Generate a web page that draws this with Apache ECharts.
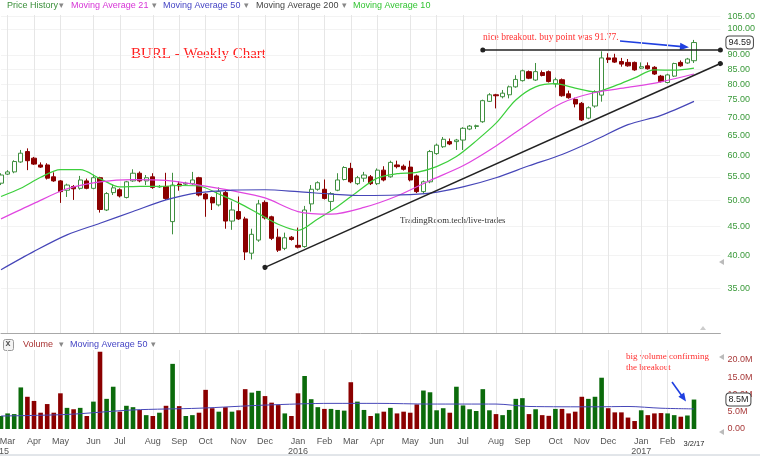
<!DOCTYPE html>
<html>
<head>
<meta charset="utf-8">
<script src="https://cdn.jsdelivr.net/npm/echarts@6/dist/echarts.min.js"></script>
<style>
  html, body { margin: 0; background: #fff; }
  #chart { width: 760px; height: 456px; }
</style>
</head>
<body>
<div id="chart"></div>
<script>
// weekly candles, one per week from 23 Feb 2015 to 27 Feb 2017: [open, close, low, high]
const candles = [
  [53.6, 55.4, 53.2, 55.8], [55.6, 56.1, 55.4, 56.5], [56.1, 58.5, 55.8, 58.8], [58.4, 60.5, 58.2, 61.3],
  [60.9, 58.7, 56.5, 61.7], [59.3, 57.9, 57.7, 59.6], [57.7, 57.2, 57.0, 58.3], [57.7, 54.7, 54.4, 58.1],
  [55.0, 54.1, 53.9, 56.0], [54.1, 51.8, 49.5, 54.3], [52.1, 53.2, 50.7, 53.5], [52.9, 52.4, 50.1, 53.2],
  [52.5, 54.3, 52.2, 55.2], [54.1, 52.5, 52.3, 54.6], [52.5, 54.8, 52.3, 55.5], [54.8, 48.2, 47.6, 55.0],
  [48.1, 51.4, 47.9, 51.7], [51.6, 52.6, 51.1, 53.3], [52.2, 50.9, 50.6, 52.5], [50.6, 53.9, 50.4, 54.1],
  [54.1, 55.8, 53.9, 56.7], [55.8, 54.1, 53.8, 56.2], [54.1, 54.8, 53.2, 55.4], [55.0, 52.7, 52.4, 55.8],
  [52.8, 52.9, 52.6, 53.2], [52.9, 50.4, 50.1, 55.9], [45.9, 53.2, 43.6, 55.9], [53.4, 53.0, 52.0, 54.0],
  [53.4, 53.6, 53.2, 53.9], [53.5, 54.3, 53.2, 56.1], [54.8, 51.1, 50.8, 55.0], [51.3, 50.3, 46.8, 51.5],
  [50.6, 49.5, 48.1, 50.8], [49.1, 51.8, 48.8, 52.7], [51.6, 46.0, 44.6, 52.0], [46.0, 48.1, 44.4, 49.8],
  [47.8, 46.4, 46.2, 50.8], [46.4, 40.6, 39.3, 46.8], [40.4, 43.6, 39.4, 44.6], [42.6, 49.3, 42.3, 50.1],
  [49.6, 46.6, 46.3, 50.0], [46.8, 42.9, 42.6, 47.0], [43.1, 40.9, 40.6, 44.6], [41.2, 43.0, 40.9, 43.9],
  [43.1, 42.7, 42.5, 43.3], [41.7, 41.4, 41.2, 44.8], [41.5, 48.1, 41.3, 48.9], [49.3, 52.3, 47.8, 53.2],
  [52.3, 53.7, 52.0, 54.0], [52.3, 50.4, 50.2, 54.4], [49.8, 51.4, 48.1, 51.7], [52.1, 54.3, 51.9, 55.8],
  [54.4, 57.1, 54.2, 57.4], [56.9, 53.9, 53.6, 58.2], [53.5, 54.8, 53.2, 55.2], [54.7, 55.4, 53.9, 56.1],
  [55.0, 53.5, 53.2, 55.4], [53.5, 56.5, 53.2, 56.9], [56.5, 54.3, 54.0, 57.4], [55.0, 58.3, 54.8, 58.7],
  [57.7, 57.3, 56.9, 58.7], [57.4, 56.7, 56.4, 57.8], [57.2, 54.3, 54.0, 58.7], [55.2, 51.8, 51.5, 55.5],
  [51.8, 53.9, 51.3, 54.2], [53.9, 60.9, 53.6, 61.3], [60.4, 62.5, 60.1, 62.9], [62.1, 64.0, 61.8, 64.6],
  [63.4, 62.8, 62.5, 64.2], [63.4, 63.8, 61.3, 64.1], [63.8, 66.9, 61.3, 67.2], [66.7, 67.5, 66.4, 67.8],
  [67.4, 67.6, 66.7, 67.9], [68.7, 74.8, 68.4, 75.1], [74.6, 76.6, 74.4, 77.1], [76.6, 76.3, 72.5, 76.9],
  [76.0, 77.1, 75.5, 78.1], [76.6, 79.1, 75.5, 79.5], [79.1, 81.5, 78.8, 82.9], [81.1, 84.4, 80.8, 84.8],
  [84.1, 81.9, 81.6, 84.5], [81.3, 84.1, 81.0, 87.1], [83.8, 82.8, 82.5, 84.5], [84.1, 80.8, 80.5, 84.5],
  [80.0, 81.4, 78.9, 82.1], [81.4, 76.3, 76.0, 81.8], [76.9, 75.7, 75.4, 77.9], [75.2, 73.8, 72.8, 75.7],
  [74.0, 69.2, 68.9, 74.4], [69.7, 72.7, 69.4, 73.1], [73.2, 77.6, 72.7, 78.0], [76.5, 88.9, 74.5, 91.3],
  [88.9, 88.3, 87.1, 90.6], [88.9, 87.4, 87.1, 90.4], [87.6, 86.7, 85.8, 88.9], [87.3, 86.1, 85.8, 88.5],
  [87.3, 84.7, 84.4, 87.6], [85.3, 85.8, 85.0, 87.3], [86.1, 85.1, 84.8, 87.3], [85.6, 83.3, 83.0, 86.0],
  [82.6, 80.8, 80.5, 83.0], [80.5, 83.0, 80.2, 83.4], [82.6, 86.9, 82.3, 87.2], [87.3, 86.1, 85.8, 88.0],
  [87.1, 88.5, 86.8, 88.9], [87.9, 94.59, 87.1, 95.6]
];

// weekly volume, millions of shares
const volume = [
  3.75, 4.5, 4.3, 12.0, 9.3, 8.1, 4.7, 7.2, 4.7, 10.3,
  6.1, 5.7, 6.1, 3.75, 7.9, 22.3, 8.7, 12.2, 5.0, 6.7,
  6.3, 5.5, 4.0, 3.75, 4.7, 6.7, 18.8, 6.6, 3.75, 4.0,
  4.7, 11.3, 6.0, 5.0, 6.3, 5.0, 5.4, 11.5, 10.5, 11.0,
  9.5, 7.6, 6.9, 4.5, 3.75, 10.3, 15.3, 8.6, 6.3, 5.8,
  5.8, 5.5, 5.3, 13.5, 7.9, 5.5, 3.75, 4.5, 5.0, 6.1,
  4.5, 5.0, 4.7, 7.1, 11.1, 10.6, 5.4, 6.0, 4.7, 12.2,
  6.8, 5.7, 5.2, 11.5, 5.4, 4.3, 4.0, 5.5, 8.7, 8.9,
  4.3, 5.7, 4.0, 3.8, 5.8, 5.8, 4.5, 5.0, 9.3, 8.7,
  9.3, 14.8, 6.0, 4.8, 4.8, 3.3, 2.3, 5.4, 4.0, 4.5,
  4.6, 4.5, 4.0, 3.55, 3.9, 8.5
];

// moving averages: [week index, value]
const ma10 = [
  [0, 50.8], [3, 52.5], [6, 54.9], [9, 56.6], [12, 56.6], [15, 54.6], [18, 52.8], [21, 52.9],
  [24, 52.9], [27, 53.1], [30, 53.0], [33, 51.3], [36, 49.5], [39, 47.4], [42, 45.4], [45, 44.3],
  [48, 46.4], [51, 48.8], [54, 51.8], [57, 54.7], [60, 55.7], [63, 56.0], [66, 57.3], [69, 59.7],
  [72, 63.6], [75, 68.3], [78, 75.0], [81, 79.1], [84, 80.1], [87, 78.7], [90, 77.5], [93, 79.4],
  [96, 82.0], [99, 84.7], [102, 84.6], [105, 85.3]
];
const ma21 = [
  [0, 46.4], [5, 49.4], [10, 52.4], [15, 53.9], [20, 54.4], [25, 54.2], [30, 53.2], [35, 52.0],
  [40, 50.5], [45, 47.8], [50, 47.3], [55, 48.6], [60, 50.9], [65, 54.2], [70, 57.5], [75, 62.3],
  [80, 68.3], [85, 74.1], [90, 77.3], [95, 78.9], [100, 80.7], [105, 83.3]
];
const ma50 = [
  [0, 37.8], [5, 40.7], [10, 43.5], [15, 45.6], [20, 47.8], [25, 50.1], [30, 51.6], [35, 52.1],
  [40, 52.2], [45, 51.8], [50, 51.3], [55, 51.0], [60, 51.1], [65, 51.5], [70, 52.8], [75, 54.8],
  [80, 57.5], [85, 60.2], [90, 63.8], [95, 67.9], [100, 70.5], [105, 74.6]
];
const volMa50 = [
  [0, 3.75], [10, 4.2], [20, 5.5], [30, 6.0], [40, 6.9], [50, 7.4], [57, 7.4], [65, 7.2],
  [75, 7.2], [80, 6.5], [90, 6.4], [95, 6.5], [100, 6.0], [105, 5.8]
];

// month gridlines / labels (week index where the month starts)
const monthIdx = [1, 5, 9, 14, 18, 23, 27, 31, 36, 40, 45, 49, 53, 57, 62, 66, 70, 75, 79, 84, 88, 92, 97, 101];
const monthNames = ['Mar', 'Apr', 'May', 'Jun', 'Jul', 'Aug', 'Sep', 'Oct', 'Nov', 'Dec', 'Jan', 'Feb',
  'Mar', 'Apr', 'May', 'Jun', 'Jul', 'Aug', 'Sep', 'Oct', 'Nov', 'Dec', 'Jan', 'Feb'];
const yearLabels = [[1, '2015'], [45, '2016'], [97, '2017']];
const lastDateLabel = [105, '3/2/17'];

const priceTicks = [35, 40, 45, 50, 55, 60, 65, 70, 75, 80, 85, 90, 100, 105];
const lastClose = 94.59;
const lastVolume = 8.5;
const buyPoint = 91.77;
const trendStart = [40, 38.15];
const trendEnd = [109, 86.9];
const breakoutStart = 73;

const weekCount = 110; // 106 weeks plus empty space on the right
const cats = Array.from({ length: weekCount }, (_, i) => String(i));

const UP = '#3f8f3f';
const DOWN = '#8b0000';
const VOL_UP = '#0b6b0b';

const monthSet = new Set(monthIdx);
const labelMap = new Map();
monthIdx.forEach((idx, k) => labelMap.set(idx, monthNames[k]));
yearLabels.forEach(([idx, y], k) => {
  // the first year sits half cut at the left edge
  const tag = k === 0 ? '{y0|' + y + '}' : y;
  labelMap.set(idx, (labelMap.get(idx) || '') + '\n' + tag);
});
labelMap.set(lastDateLabel[0], '{d|' + lastDateLabel[1] + '}');

const volData = volume.map((v, i) => ({
  value: v,
  itemStyle: { color: candles[i][1] >= candles[i][0] ? VOL_UP : DOWN }
}));

const FONT = 'Liberation Sans';
const SERIF = 'Liberation Serif';

const boxLabel = {
  show: true, position: 'end', distance: 6,
  color: '#222', fontSize: 9, backgroundColor: '#fff',
  borderColor: '#444', borderWidth: 1, borderRadius: 3, padding: [2, 2, 1, 2]
};

const chart = echarts.init(document.getElementById('chart'));
chart.setOption({
  animation: false,
  textStyle: { fontFamily: FONT },
  grid: [
    { left: 1, right: 39.6, top: 15, height: 318, outerBoundsMode: 'none' },
    { left: 1, right: 39.6, top: 350, height: 79, outerBoundsMode: 'none' }
  ],
  xAxis: [
    {
      type: 'category', gridIndex: 0, data: cats, boundaryGap: false,
      axisLine: { lineStyle: { color: '#a8a8a8' } },
      axisTick: { show: false },
      axisLabel: { show: false },
      splitLine: { show: true, interval: (i) => monthSet.has(i), lineStyle: { color: '#e6e6e6' } }
    },
    {
      type: 'category', gridIndex: 1, data: cats, boundaryGap: false,
      axisLine: { show: false },
      axisTick: { show: false },
      axisLabel: {
        interval: (i) => labelMap.has(i),
        formatter: (v, i) => labelMap.get(i) || '',
        color: '#555', fontSize: 9, lineHeight: 10, margin: 8,
        rich: {
          d: { fontSize: 7.5, color: '#222', padding: [4, 0, 0, 0] },
          y0: { fontSize: 9, color: '#555', padding: [0, 17, 0, 0] }
        }
      },
      splitLine: { show: true, interval: (i) => monthSet.has(i), lineStyle: { color: '#e6e6e6' } }
    }
  ],
  yAxis: [
    {
      type: 'log', gridIndex: 0, position: 'right', min: 29.27, max: 105.72,
      axisLine: { show: false },
      axisTick: { show: false, customValues: priceTicks },
      axisLabel: {
        customValues: priceTicks, formatter: (v) => v.toFixed(2),
        color: '#3b9a3b', fontSize: 9, margin: 7
      },
      splitLine: { show: true, lineStyle: { color: '#f3f3f3' } }
    },
    {
      type: 'value', gridIndex: 1, position: 'right', min: 0, max: 22.8, interval: 5,
      axisLine: { show: false },
      axisTick: { show: false },
      axisLabel: {
        formatter: (v) => (v === 0 ? '0.00' : v % 5 === 0 ? v.toFixed(1) + 'M' : ''),
        color: '#a83a3a', fontSize: 9, margin: 7
      },
      splitLine: { show: false }
    }
  ],
  series: [
    {
      type: 'candlestick', name: 'Price History', xAxisIndex: 0, yAxisIndex: 0,
      data: candles, barWidth: 4.6,
      itemStyle: { color: '#ffffff', color0: DOWN, borderColor: UP, borderColor0: DOWN, borderWidth: 1 },
      markLine: {
        silent: true, symbol: ['circle', 'circle'], symbolSize: 5,
        label: { show: false },
        lineStyle: { color: '#222', width: 1.5, type: 'solid' },
        data: [
          [{ coord: trendStart }, { coord: trendEnd }],
          [{ coord: [breakoutStart, buyPoint] }, { coord: [weekCount - 1, buyPoint] }]
        ]
      }
    },
    {
      type: 'line', name: 'Moving Average 10', xAxisIndex: 0, yAxisIndex: 0, data: ma10,
      showSymbol: false, smooth: 0.3, lineStyle: { color: '#3ccf3c', width: 1.2 },
      markLine: {
        silent: true, symbol: 'none',
        lineStyle: { color: 'transparent', width: 0 },
        data: [{ yAxis: lastClose }],
        label: Object.assign({ formatter: lastClose.toFixed(2) }, boxLabel)
      }
    },
    {
      type: 'line', name: 'Moving Average 21', xAxisIndex: 0, yAxisIndex: 0, data: ma21,
      showSymbol: false, smooth: 0.3, lineStyle: { color: '#e046e0', width: 1.2 }
    },
    {
      type: 'line', name: 'Moving Average 50', xAxisIndex: 0, yAxisIndex: 0, data: ma50,
      showSymbol: false, smooth: 0.3, lineStyle: { color: '#4646b8', width: 1.2 }
    },
    {
      type: 'bar', name: 'Volume', xAxisIndex: 1, yAxisIndex: 1, data: volData, barWidth: 4.6,
      markLine: {
        silent: true, symbol: 'none',
        lineStyle: { color: 'transparent', width: 0 },
        data: [{ yAxis: lastVolume }],
        label: Object.assign({ formatter: lastVolume.toFixed(1) + 'M' }, boxLabel)
      }
    },
    {
      type: 'line', name: 'Volume MA 50', xAxisIndex: 1, yAxisIndex: 1, data: volMa50,
      showSymbol: false, smooth: 0.3, lineStyle: { color: '#4646b8', width: 1 }
    }
  ],
  graphic: [
    // legend row of the price panel
    { type: 'text', left: 7, top: 1, style: { text: 'Price History', fill: '#3a8f3a', font: '9px ' + FONT } },
    { type: 'text', left: 59, top: 1, style: { text: '▾', fill: '#888', font: '9px ' + FONT } },
    { type: 'text', left: 71, top: 1, style: { text: 'Moving Average 21', fill: '#d633d6', font: '9px ' + FONT } },
    { type: 'text', left: 152, top: 1, style: { text: '▾', fill: '#888', font: '9px ' + FONT } },
    { type: 'text', left: 163, top: 1, style: { text: 'Moving Average 50', fill: '#4444c4', font: '9px ' + FONT } },
    { type: 'text', left: 244, top: 1, style: { text: '▾', fill: '#888', font: '9px ' + FONT } },
    { type: 'text', left: 256, top: 1, style: { text: 'Moving Average 200', fill: '#444', font: '9px ' + FONT } },
    { type: 'text', left: 342, top: 1, style: { text: '▾', fill: '#888', font: '9px ' + FONT } },
    { type: 'text', left: 353, top: 1, style: { text: 'Moving Average 10', fill: '#33c433', font: '9px ' + FONT } },

    // legend row of the volume panel
    { type: 'rect', left: 3, top: 339, shape: { width: 10, height: 11, r: 2 }, style: { fill: '#f4f4f4', stroke: '#999' } },
    { type: 'text', left: 5.5, top: 339.5, style: { text: 'x', fill: '#555', font: 'bold 9px ' + FONT } },
    { type: 'text', left: 23, top: 340, style: { text: 'Volume', fill: '#a83232', font: '9px ' + FONT } },
    { type: 'text', left: 59, top: 340, style: { text: '▾', fill: '#888', font: '9px ' + FONT } },
    { type: 'text', left: 70, top: 340, style: { text: 'Moving Average 50', fill: '#4444c4', font: '9px ' + FONT } },
    { type: 'text', left: 151, top: 340, style: { text: '▾', fill: '#888', font: '9px ' + FONT } },

    // annotations
    { type: 'text', left: 131, top: 47, style: { text: 'BURL - Weekly Chart', fill: '#ff2020', font: '15px ' + SERIF } },
    { type: 'text', left: 483, top: 32, style: { text: 'nice breakout. buy point was 91.77.', fill: '#ff3030', font: '9.5px ' + SERIF } },
    { type: 'text', left: 400, top: 216, style: { text: 'TradingRoom.tech/live-trades', fill: '#333', font: '8.8px ' + SERIF } },
    { type: 'text', left: 626, top: 351, style: { text: 'big volume confirming\nthe breakout', fill: '#ff3030', font: '9px ' + SERIF, lineHeight: 11 } },
    { type: 'line', shape: { x1: 620, y1: 41, x2: 682, y2: 46.6 }, style: { stroke: '#2040e0', lineWidth: 1.6 } },
    { type: 'polygon', shape: { points: [[689, 47.2], [680.3, 42.8], [679.7, 50.2]] }, style: { fill: '#2040e0' } },
    { type: 'line', shape: { x1: 672, y1: 382, x2: 682, y2: 396 }, style: { stroke: '#2040e0', lineWidth: 1.6 } },
    { type: 'polygon', shape: { points: [[686, 401.5], [678.4, 396.7], [684.1, 392.5]] }, style: { fill: '#2040e0' } },

    // panel chrome
    { type: 'line', shape: { x1: 0, y1: 455, x2: 760, y2: 455 }, style: { stroke: '#c5ccd4', lineWidth: 1 } },
    { type: 'polygon', shape: { points: [[719, 262], [724, 259], [724, 265]] }, style: { fill: '#bbb' } },
    { type: 'polygon', shape: { points: [[719, 357], [724, 354], [724, 360]] }, style: { fill: '#bbb' } },
    { type: 'polygon', shape: { points: [[719, 432], [724, 429], [724, 435]] }, style: { fill: '#bbb' } },
    { type: 'polygon', shape: { points: [[700, 330], [703, 326], [706, 330]] }, style: { fill: '#ccc' } }
  ]
});
</script>
</body>
</html>
